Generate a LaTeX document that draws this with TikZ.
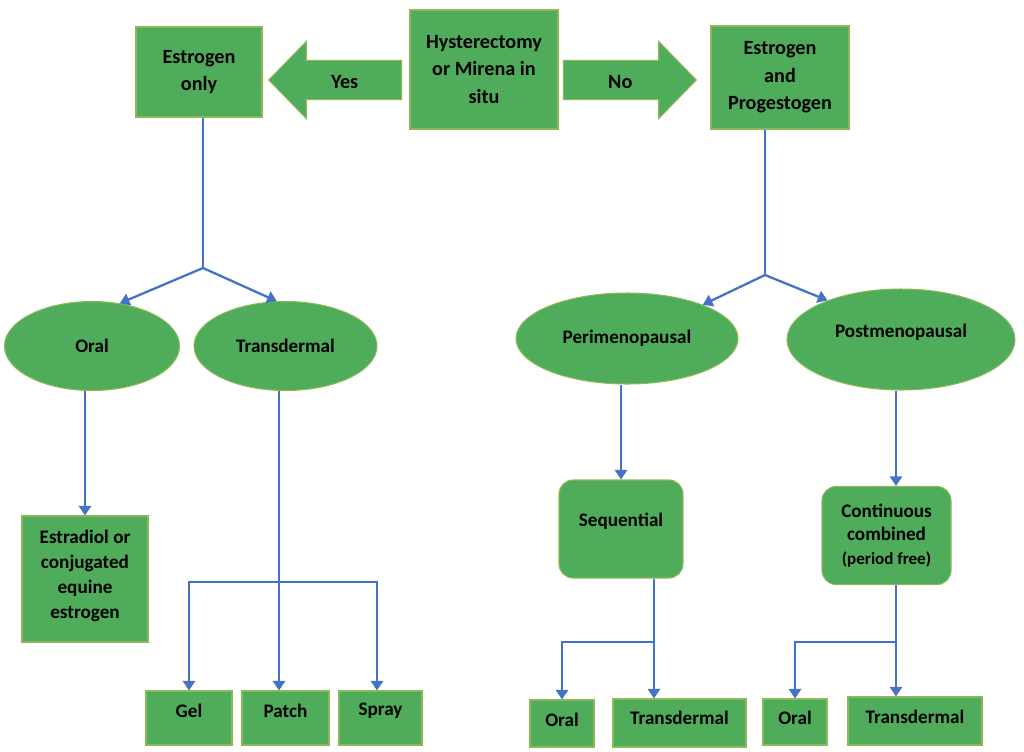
\documentclass[tikz,border=0pt]{standalone}
\usepackage{fontspec}
\setmainfont{Carlito}
\usetikzlibrary{arrows.meta,shapes.geometric,shapes.arrows,calc}
\definecolor{htgreen}{HTML}{4EAC5B}
\definecolor{htedge}{HTML}{8DB85A}
\definecolor{htblue}{HTML}{4472C4}
\tikzset{
  box/.style={draw=htedge,fill=htgreen,line width=0.6pt,align=center,inner sep=0pt,
              font=\bfseries\fontsize{10.9}{14.2}\selectfont},
  topbox/.style={box,font=\bfseries\fontsize{11.5}{15.6}\selectfont},
  ell/.style={box,ellipse},
  rbox/.style={box,rounded corners=8pt},
  lift/.style={text depth=#1},
  blk/.style={topbox,single arrow,single arrow head extend=0.38cm,single arrow tip angle=91.5,
              inner xsep=4pt,inner ysep=0.195cm,text height=10pt,text depth=0.5pt,
              minimum height=2.66cm},
  ar/.style={-{Triangle[length=5.5pt,width=7pt]},line width=1.3pt,htblue},
  ln/.style={line width=1.3pt,htblue},
}
\begin{document}
\begin{tikzpicture}[x=0.02cm,y=-0.02cm]
  \useasboundingbox (0,0) rectangle (1024,751);
  \node[topbox,minimum width=2.96cm,minimum height=2.38cm] (hyst) at (484,69.5) {Hysterectomy\\or Mirena in\\situ};
  \node[topbox,minimum width=2.52cm,minimum height=1.8cm] (eonly) at (199,72) {Estrogen\\only};
  \node[topbox,minimum width=2.76cm,minimum height=2.06cm] (eprog) at (780,77.5) {Estrogen\\and\\Progestogen};
  \node[blk,shape border rotate=180,anchor=tip] (yes) at (268,80) {Yes};
  \node[blk,anchor=tip] (no) at (697,80) {No};
  \node[ell,minimum width=3.5cm,minimum height=1.78cm] (oral) at (92,346) {Oral};
  \node[ell,minimum width=3.66cm,minimum height=1.78cm] (trans) at (285.5,346) {Transdermal};
  \node[ell,minimum width=4.44cm,minimum height=1.82cm] (peri) at (627,338.5) {Perimenopausal};
  \node[ell,lift=10pt,minimum width=4.56cm,minimum height=2.02cm] (post) at (901,339.5) {Postmenopausal};
  \node[box,lift=5pt,minimum width=2.52cm,minimum height=2.52cm] (estr) at (85,579) {Estradiol or\\conjugated\\equine\\estrogen};
  \node[box,lift=8pt,minimum width=1.72cm,minimum height=1.08cm] (gel) at (189,718) {Gel};
  \node[box,lift=8pt,minimum width=1.74cm,minimum height=1.08cm] (patch) at (285.5,718) {Patch};
  \node[box,lift=10pt,minimum width=1.66cm,minimum height=1.08cm] (spray) at (380.5,718) {Spray};
  \node[rbox,lift=10pt,minimum width=2.48cm,minimum height=1.96cm] (seq) at (621,529) {Sequential};
  \node[rbox,minimum width=2.58cm,minimum height=1.96cm,font=\bfseries\fontsize{10.9}{13.6}\selectfont] (cont) at (886.5,535.5) {Continuous\\combined\\{\fontsize{9.7}{13.6}\selectfont(period free)}};
  \node[box,lift=4pt,minimum width=1.28cm,minimum height=0.94cm] (oralb) at (562,723.5) {Oral};
  \node[box,lift=5.6pt,minimum width=2.66cm,minimum height=0.96cm] (transb) at (679.5,723) {Transdermal};
  \node[box,lift=4.5pt,minimum width=1.28cm,minimum height=0.92cm] (oralc) at (795,722) {Oral};
  \node[box,lift=4.5pt,minimum width=2.68cm,minimum height=0.96cm] (transc) at (915,721) {Transdermal};
  \coordinate (lsplit) at (203,268);
  \coordinate (rsplit) at (765,275);
  \coordinate (tsplit) at (279,582);
  \coordinate (ssplit) at (654,642);
  \coordinate (csplit) at (896,642);
  \draw[ln] (lsplit |- eonly.south) -- (lsplit);
  \draw[ar] (lsplit) -- (oral.57);
  \draw[ar] (lsplit) -- (trans.101);
  \draw[ln] (rsplit |- eprog.south) -- (rsplit);
  \draw[ar] (rsplit) -- (peri.24);
  \draw[ar] (rsplit) -- (post.152);
  \draw[ar] (estr.north |- oral.south) -- (estr.north);
  \draw[ln] (tsplit |- trans.south) -- (tsplit);
  \draw[ar] (tsplit) -| (gel.north);
  \draw[ar] (tsplit) -- (tsplit |- patch.north);
  \draw[ar] (tsplit) -| ($(spray.north)+(-3.5,0)$);
  \draw[ar] (seq.north |- peri.south) -- (seq.north);
  \draw[ar] (csplit |- post.south) -- (csplit |- cont.north);
  \draw[ln] (ssplit |- seq.south) -- (ssplit);
  \draw[ar] (ssplit) -| (oralb.north);
  \draw[ar] (ssplit) -- (ssplit |- transb.north);
  \draw[ln] (csplit |- cont.south) -- (csplit);
  \draw[ar] (csplit) -| (oralc.north);
  \draw[ar] (csplit) -- (csplit |- transc.north);
\end{tikzpicture}
\end{document}
